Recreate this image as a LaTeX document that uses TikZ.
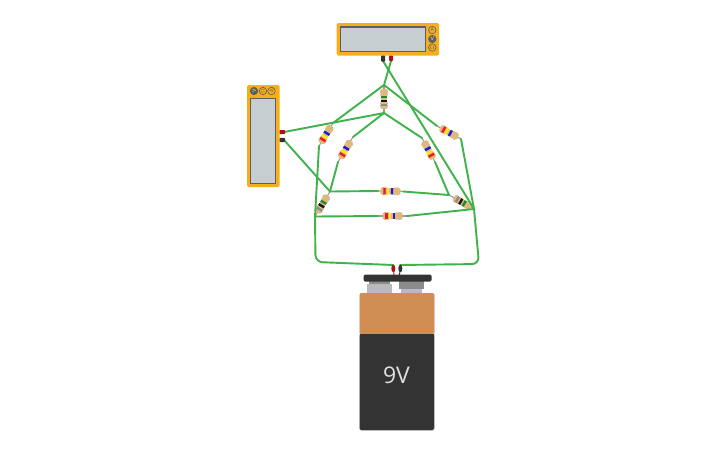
\documentclass[tikz,border=0pt]{standalone}
\usepackage{fontspec}
\setmainfont{Open Sans}
\newfontfamily\dejavu{DejaVu Sans}
\definecolor{wirec}{HTML}{3FB24A}
\definecolor{meterc}{HTML}{F5AF1D}
\definecolor{screenc}{HTML}{C6CED1}
\definecolor{framec}{HTML}{5A5F5F}
\definecolor{bodyc}{HTML}{DDB97F}
\definecolor{leadc}{HTML}{9A9A9A}
\definecolor{darkc}{HTML}{333333}
\definecolor{orangec}{HTML}{D08D54}
\definecolor{rbandc}{HTML}{F01818}
\definecolor{ybandc}{HTML}{FFE81A}
\definecolor{bbandc}{HTML}{1A1AE0}
\definecolor{gbandc}{HTML}{1E8A28}
\definecolor{kbandc}{HTML}{151515}
\definecolor{sbandc}{HTML}{8C8C8C}
\tikzset{
  wire/.style={draw=wirec,line width=1.9pt,line join=round,line cap=round},
  lead/.style={draw=leadc,line width=1.1pt},
  meterbody/.style={fill=meterc,rounded corners=1.5pt},
  screen/.style={fill=screenc,draw=framec,line width=1.5pt},
  dial/.style={circle,draw=framec,line width=.6pt,inner sep=0pt,minimum size=7.5pt,font=\dejavu\fontsize{5}{5}\selectfont,text=framec},
  dialon/.style={dial,fill=framec,text=meterc!40!white},
  redprobe/.style={fill=rbandc!72!black},
  blackprobe/.style={fill=darkc},
}
% name, a(x,y), b(x,y), list of offset/colour
\newcommand{\resistor}[6]{%
  \coordinate (#1-a) at (#2,#3);
  \coordinate (#1-b) at (#4,#5);
  \draw[lead] (#1-a) -- (#1-b);
  \pgfmathsetmacro{\rang}{atan2(-(#5-#3),(#4-#2))}
  \pgfmathsetmacro{\rmx}{(#2+#4)/2}
  \pgfmathsetmacro{\rmy}{(#3+#5)/2}
  \begin{scope}[shift={(\rmx,\rmy)},rotate=\rang,y=1pt]
    \fill[bodyc,rounded corners=1.8pt] (-10,-3.9) -- (-5,-3.9) -- (-4,-2.9) -- (4,-2.9) -- (5,-3.9) -- (10,-3.9) -- (10,3.9) -- (5,3.9) -- (4,2.9) -- (-4,2.9) -- (-5,3.9) -- (-10,3.9) -- cycle;
    \foreach \o/\c in {#6} {\fill[\c] (\o-1.2,-3.2) rectangle (\o+1.2,3.2);}
  \end{scope}
}
\begin{document}
\begin{tikzpicture}[x=1pt,y=-1pt]
\useasboundingbox (0,0) rectangle (725,453);
\fill[white] (0,0) rectangle (725,453);

% junctions
\coordinate (topj) at (384,85);
\coordinate (midj) at (384,113);
\coordinate (leftj) at (330,191.5);
\coordinate (lowj) at (315,216.5);
\coordinate (rightj) at (449,195);
\coordinate (farj) at (474,209);
\coordinate (mtblack) at (383,61);
\coordinate (mtred) at (391,61);
\coordinate (mlred) at (284,132);
\coordinate (mlblack) at (284,140);
\coordinate (batred) at (393.5,265);
\coordinate (batblack) at (400,265);

% resistors
\resistor{ra}{384}{85}{384}{113}{-2/gbandc,2/kbandc,6/sbandc}
\resistor{rb}{319}{146}{333}{123}{-6/rbandc,-2.5/ybandc,1.5/bbandc}
\resistor{rc}{338}{162}{353}{137}{-6/rbandc,-2.5/ybandc,1.5/bbandc}
\resistor{rd}{330}{191.5}{315}{216.5}{-2/gbandc,2/kbandc,6/sbandc}
\resistor{re}{378}{191}{403}{191.5}{-6/rbandc,-2.5/ybandc,1.5/bbandc}
\resistor{rf}{378}{216}{407}{216}{-6/rbandc,-2.5/ybandc,1.5/bbandc}
\resistor{rg}{437}{126}{461}{139}{-6/rbandc,-2.5/ybandc,1.5/bbandc}
\resistor{rh}{435}{162}{422}{138}{-6/rbandc,-2.5/ybandc,1.5/bbandc}
\resistor{ri}{475}{209.5}{450}{195.5}{-2/gbandc,2/kbandc,6/sbandc}

% wires
\draw[wire] (mtred) -- (topj);
\draw[wire] (mtblack) -- (farj);
\draw[wire] (topj) -- (rb-b);
\draw[wire] (topj) -- (rg-a);
\draw[wire] (midj) -- (mlred);
\draw[wire] (midj) -- (rc-b);
\draw[wire] (midj) -- (rh-b);
\draw[wire] (mlblack) -- (leftj);
\draw[wire] (rb-a) -- (lowj);
\draw[wire] (rc-a) -- (leftj);
\draw[wire] (leftj) -- (re-a);
\draw[wire] (lowj) -- (rf-a);
\draw[wire] (re-b) -- (rightj);
\draw[wire] (rh-a) -- (rightj);
\draw[wire] (rf-b) -- (farj);
\draw[wire] (rg-b) -- (farj);
\draw[wire,rounded corners=7pt] (lowj) -- (315.5,262) -- (batred);
\draw[wire,rounded corners=7pt] (farj) -- (479,264) -- (batblack);

% top meter
\fill[meterbody] (336.5,23) rectangle (439,55.5);
\filldraw[screen] (340.5,27) rectangle (425.5,51.5);
\node[dial] (mtA) at (432.3,30) {A};
\node[dialon] (mtV) at (432.3,39) {V};
\node[dial] (mtO) at (432.3,47.5) {$\Omega$};
\fill[blackprobe,rounded corners=.8pt] (381,55.5) rectangle (385.2,61.5);
\fill[redprobe,rounded corners=.8pt] (389,55.5) rectangle (393,61);

% left meter
\fill[meterbody] (247,85) rectangle (279.5,187);
\filldraw[screen] (250.5,98.5) rectangle (275.5,183.5);
\node[dialon,rotate=90] (mlV) at (254,91) {V};
\node[dial,rotate=90] (mlO) at (263,91) {$\Omega$};
\node[dial,rotate=90] (mlA) at (271.5,91) {A};
\fill[redprobe,rounded corners=.8pt] (279.5,130) rectangle (285,134.2);
\fill[blackprobe,rounded corners=.8pt] (279.5,137.8) rectangle (285,142);

% battery
\fill[black!45] (368.5,281) rectangle (390,284.5);
\fill[black!27] (367,284) rectangle (392,293.5);
\fill[black!45] (399,281) rectangle (424,289);
\fill[black!27] (401,289) rectangle (422,293.5);
\fill[darkc,rounded corners=1.5pt] (363.5,274.5) rectangle (431.5,281.5);
\fill[black!18,rounded corners=2pt] (359.5,293) rectangle (434.8,430.8);
\fill[orangec,rounded corners=2pt] (359.5,293) -- (434,293) -- (434,334) -- (359.5,334) -- cycle;
\fill[darkc,rounded corners=2pt] (359.5,334) -- (434,334) -- (434,430) -- (359.5,430) -- cycle;
\fill[darkc] (359.5,334) rectangle (434,340);
\node[text=black!12,font=\fontsize{23}{23}\selectfont,inner sep=0pt] (bat9v) at (396.5,375) {9V};
\draw[rbandc!72!black,line width=.9pt] (393.5,270) -- (394,275);
\draw[darkc,line width=.9pt] (400,270) -- (399.5,275);
\fill[rbandc!72!black] (393.3,268.5) ellipse (2pt and 3.8pt);
\fill[darkc] (400.3,268.5) ellipse (2pt and 3.8pt);
\end{tikzpicture}
\end{document}
